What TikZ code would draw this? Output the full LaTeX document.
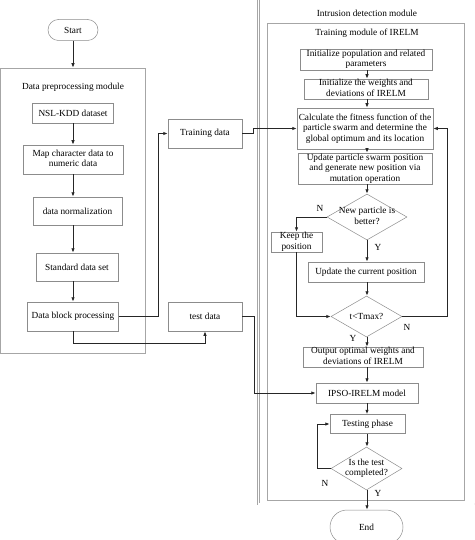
\documentclass[tikz,border=0pt]{standalone}
\usepackage{fontspec}
\setmainfont{Liberation Serif}
\usetikzlibrary{arrows.meta,shapes.geometric,shapes.misc}

\newcommand{\ctext}[1]{\smash{\makebox[0pt]{\raisebox{-0.25em}{\begin{tabular}{@{}c@{}}#1\end{tabular}}}}}

\tikzset{
  box/.style={rectangle, draw=black!45, line width=0.5pt, inner sep=0pt},
  decision/.style={diamond, draw=black!45, line width=0.5pt, inner sep=0pt},
  term/.style={rounded rectangle, draw=black!45, line width=0.5pt, inner sep=0pt},
  module/.style={rectangle, draw=black!35, line width=0.5pt, inner sep=0pt},
  arr/.style={-{Latex[length=4.5pt,width=3.5pt]}, line width=0.9pt, black!85},
}

\begin{document}
\begin{tikzpicture}[x=1pt,y=-1pt,font=\fontsize{9.3}{10.5}\selectfont]
  \useasboundingbox (0,0) rectangle (474,540);
  \clip (0,0) rectangle (474,540);

  % preprocessing side
  \node[term, minimum width=50pt, minimum height=21pt] (start) at (73,30) {Start};
  \node[module, minimum width=144.5pt, minimum height=285pt] (prepmod) at (72.75,210.5) {};
  \node (preptitle) at (73,87) {Data preprocessing module};
  \node[box, minimum width=81pt, minimum height=20pt] (nsl) at (73,113) {NSL-KDD dataset};
  \node[box, minimum width=100pt, minimum height=29pt] (map) at (73,159.5) {\ctext{Map character data to\\numeric data}};
  \node[box, minimum width=89pt, minimum height=28pt] (norm) at (77.5,211) {data normalization};
  \node[box, minimum width=82pt, minimum height=28pt] (std) at (77,267) {Standard data set};
  \node[box, minimum width=91pt, minimum height=29pt] (dbp) at (73,316.5) {Data block processing};
  \node[box, minimum width=74pt, minimum height=29pt] (train) at (205,133.5) {Training data};
  \node[box, minimum width=74pt, minimum height=29pt] (test) at (205,316.5) {test data};

  % detection side
  \node[module, double, double distance=1.6pt, minimum width=221.5pt, minimum height=509pt] (detmod) at (369.25,249.5) {};
  \node (dettitle) at (367,13) {Intrusion detection module};
  \node[module, minimum width=197pt, minimum height=477pt] (trainmod) at (366,261.5) {};
  \node (traintitle) at (367,33) {Training module of IRELM};
  \coordinate (col) at (367,0);

  \node[box, minimum width=132pt, minimum height=21pt] (init) at (366,59.5) {\ctext{Initialize population and related\\parameters}};
  \node[box, minimum width=124pt, minimum height=20pt] (initw) at (366,89) {\ctext{Initialize the weights and\\deviations of IRELM}};
  \node[box, minimum width=136pt, minimum height=41pt] (calc) at (365,128.5) {\ctext{Calculate the fitness function of the\\particle swarm and determine the\\global optimum and its location}};
  \node[box, minimum width=134pt, minimum height=31pt] (upd) at (365,168.5) {\ctext{Update particle swarm position\\and generate new position via\\mutation operation}};
  \node[decision, minimum width=80pt, minimum height=46pt] (better) at (367,217) {\ctext{New particle is\\better?}};
  \node[box, minimum width=51pt, minimum height=20pt] (keep) at (296.5,242) {\ctext{Keep the\\position}};
  \node[box, minimum width=116pt, minimum height=20pt] (curr) at (366,272) {Update the current position};
  \node[decision, minimum width=71pt, minimum height=41pt] (tmax) at (366.5,316.5) {t<Tmax?};
  \node[box, minimum width=120pt, minimum height=20pt] (out) at (363,357) {\ctext{Output optimal weights and\\deviations of IRELM}};
  \node[box, minimum width=102pt, minimum height=20pt] (ipso) at (367,393) {IPSO-IRELM model};
  \node[box, minimum width=75pt, minimum height=19pt] (testph) at (367.5,424) {Testing phase};
  \node[decision, minimum width=71pt, minimum height=43pt] (done) at (366.5,468.5) {\ctext{Is the test\\completed?}};
  \node[term, minimum width=73pt, minimum height=34pt] (end) at (366.5,527) {End};

  \node (n1) at (320,208) {N};
  \node (y1) at (378,247) {Y};
  \node (n2) at (407,327) {N};
  \node (y2) at (353,338) {Y};
  \node (n3) at (325,483) {N};
  \node (y3) at (378,493) {Y};

  % connectors
  \draw[arr] (start.south) -- (start.south |- prepmod.north);
  \draw[arr] (nsl) -- (map);
  \draw[arr] (map.south) -- (map.south |- norm.north);
  \draw[arr] (map.south |- norm.south) -- (map.south |- std.north);
  \draw[arr] (map.south |- std.south) -- (dbp.north);
  \draw[arr] (dbp.east) -- ++(39.5,0) |- (train.west);
  \draw[arr] (dbp.south) -- ++(0,12) -| (test.south);
  \draw[arr] (train.east) -- ++(11,0) |- (calc.west);
  \draw[arr] (test.east) -- ++(12,0) |- (ipso.west);

  \draw[arr] (col |- init.south) -- (col |- initw.north);
  \draw[arr] (col |- initw.south) -- (col |- calc.north);
  \draw[arr] (col |- calc.south) -- (col |- upd.north);
  \draw[arr] (col |- upd.south) -- (better.north);
  \draw[arr] (better.west) -| (keep.north);
  \draw[arr] (col |- better.south) -- (col |- curr.north);
  \draw[arr] (col |- curr.south) -- (col |- tmax.north);
  \draw[arr] (keep.south) |- (tmax.west);
  \draw[arr] (tmax.east) -- ++(45,0) |- (calc.east);
  \draw[arr] (col |- tmax.south) -- (col |- out.north);
  \draw[arr] (col |- out.south) -- (col |- ipso.north);
  \draw[arr] (col |- ipso.south) -- (col |- testph.north);
  \draw[arr] (col |- testph.south) -- (col |- done.north);
  \draw[arr] (done.west) -- ++(-13,0) |- (testph.west);
  \draw[arr] (col |- done.south) -- (col |- end.north);
\end{tikzpicture}
\end{document}
